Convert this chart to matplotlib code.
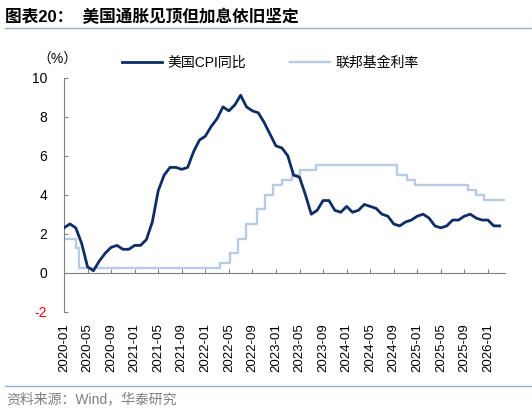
import datetime as dt
import numpy as np
import matplotlib
matplotlib.use('Agg')
import matplotlib.pyplot as plt
from matplotlib.lines import Line2D

plt.rcParams['font.family'] = ['Liberation Sans', 'Noto Sans CJK SC', 'DejaVu Sans']

# 美国CPI同比, monthly, first point sits on the 2020-01 tick
cpi = [2.3, 2.5, 2.3, 1.5, 0.3, 0.1, 0.6, 1.0, 1.3, 1.4, 1.2, 1.2, 1.4,
       1.4, 1.7, 2.6, 4.2, 5.0, 5.4, 5.4, 5.3, 5.4, 6.2, 6.8, 7.0,
       7.5, 7.9, 8.5, 8.3, 8.6, 9.1, 8.5, 8.3, 8.2, 7.7, 7.1, 6.5,
       6.4, 6.0, 5.0, 4.9, 4.0, 3.0, 3.2, 3.7, 3.7, 3.2, 3.1, 3.4,
       3.1, 3.2, 3.5, 3.4, 3.3, 3.0, 2.9, 2.5, 2.4, 2.6, 2.7, 2.9,
       3.0, 2.8, 2.4, 2.3, 2.4, 2.7, 2.7, 2.9, 3.0, 2.8, 2.7, 2.7, 2.4, 2.4]

# 联邦基金利率 (upper bound), change dates and new levels
fed_dates = ['2020-01-01', '2020-03-04', '2020-03-16', '2022-03-17', '2022-05-05',
             '2022-06-16', '2022-07-28', '2022-09-22', '2022-11-03', '2022-12-15',
             '2023-02-02', '2023-03-23', '2023-05-04', '2023-07-27', '2024-09-19',
             '2024-11-08', '2024-12-19', '2025-09-18', '2025-10-30', '2025-12-11',
             '2026-03-27']
fed_rates = [1.75, 1.25, 0.25, 0.5, 1.0, 1.75, 2.5, 3.25, 4.0, 4.5,
             4.75, 5.0, 5.25, 5.5, 5.0, 4.75, 4.5, 4.25, 4.0, 3.75, 3.75]

tick_labels = ['2020-01', '2020-05', '2020-09', '2021-01', '2021-05', '2021-09',
               '2022-01', '2022-05', '2022-09', '2023-01', '2023-05', '2023-09',
               '2024-01', '2024-05', '2024-09', '2025-01', '2025-05', '2025-09',
               '2026-01']


def month_pos(s):
    d = dt.datetime.strptime(s, '%Y-%m-%d')
    nxt = dt.datetime(d.year + (d.month == 12), d.month % 12 + 1, 1)
    days = (nxt - dt.datetime(d.year, d.month, 1)).days
    return (d.year - 2020) * 12 + (d.month - 1) + (d.day - 1) / days


fed_x = [month_pos(s) for s in fed_dates]
cpi_x = np.arange(len(cpi))
tick_x = [month_pos(s + '-01') for s in tick_labels]

navy = '#0E2C66'
light = '#B7CBE5'
grey = '#808080'

fig = plt.figure(figsize=[5.32, 4.16], dpi=100)
ax = fig.add_axes([64 / 532, 1 - 311.7 / 416, (505 - 64) / 532, (311.7 - 77.7) / 416])

ax.plot(cpi_x, cpi, color=navy, lw=2.0, label='美国CPI同比', zorder=3)
ax.plot(fed_x, fed_rates, color=light, lw=1.7, drawstyle='steps-post', label='联邦基金利率', zorder=2)

ax.set_xlim(0, 74.9)
ax.set_ylim(-2, 10)
ax.set_yticks(range(-2, 11, 2))
ax.yaxis.set_major_formatter(matplotlib.ticker.FuncFormatter(lambda v, p: '%d' % v))
ax.tick_params(axis='y', direction='in', length=3, color=grey, pad=12, labelsize=10)
for lab, v in zip(ax.get_yticklabels(), range(-2, 11, 2)):
    lab.set_color('red' if v < 0 else 'black')

for side in ['top', 'right']:
    ax.spines[side].set_visible(False)
ax.spines['left'].set_color(grey)
ax.spines['bottom'].set_color(grey)
ax.spines['bottom'].set_position(('data', 0))
ax.set_xticks(tick_x)
ax.tick_params(axis='x', direction='in', length=3, color=grey, labelbottom=False)

sec = ax.secondary_xaxis('bottom')
sec.set_xticks(tick_x)
sec.set_xticklabels(tick_labels, rotation=90, fontsize=9.5)
sec.spines['bottom'].set_visible(False)
sec.tick_params(length=0, pad=8)

ax.legend(loc='center left', bbox_to_anchor=(122 / 532, 1 - 63 / 416), bbox_transform=fig.transFigure,
          ncol=2, frameon=False, fontsize=10, handlelength=2.9, handletextpad=0.35,
          columnspacing=3.2, borderpad=0, borderaxespad=0)
fig.text(57 / 532, 1 - 60 / 416, '（%）', ha='center', va='center', fontsize=10)

fig.text(5 / 532, 1 - 17 / 416, '图表20：  美国通胀见顶但加息依旧坚定', ha='left', va='center',
         fontsize=12, fontweight='bold')
fig.text(6 / 532, 1 - 399 / 416, '资料来源：Wind，华泰研究', ha='left', va='center',
         fontsize=10, color='#7F7F7F')
for yy in [28, 386]:
    fig.add_artist(Line2D([5 / 532, 1], [1 - yy / 416, 1 - yy / 416], transform=fig.transFigure,
                          color='#98AECA', lw=1))

fig.savefig('out.png', dpi=100)
